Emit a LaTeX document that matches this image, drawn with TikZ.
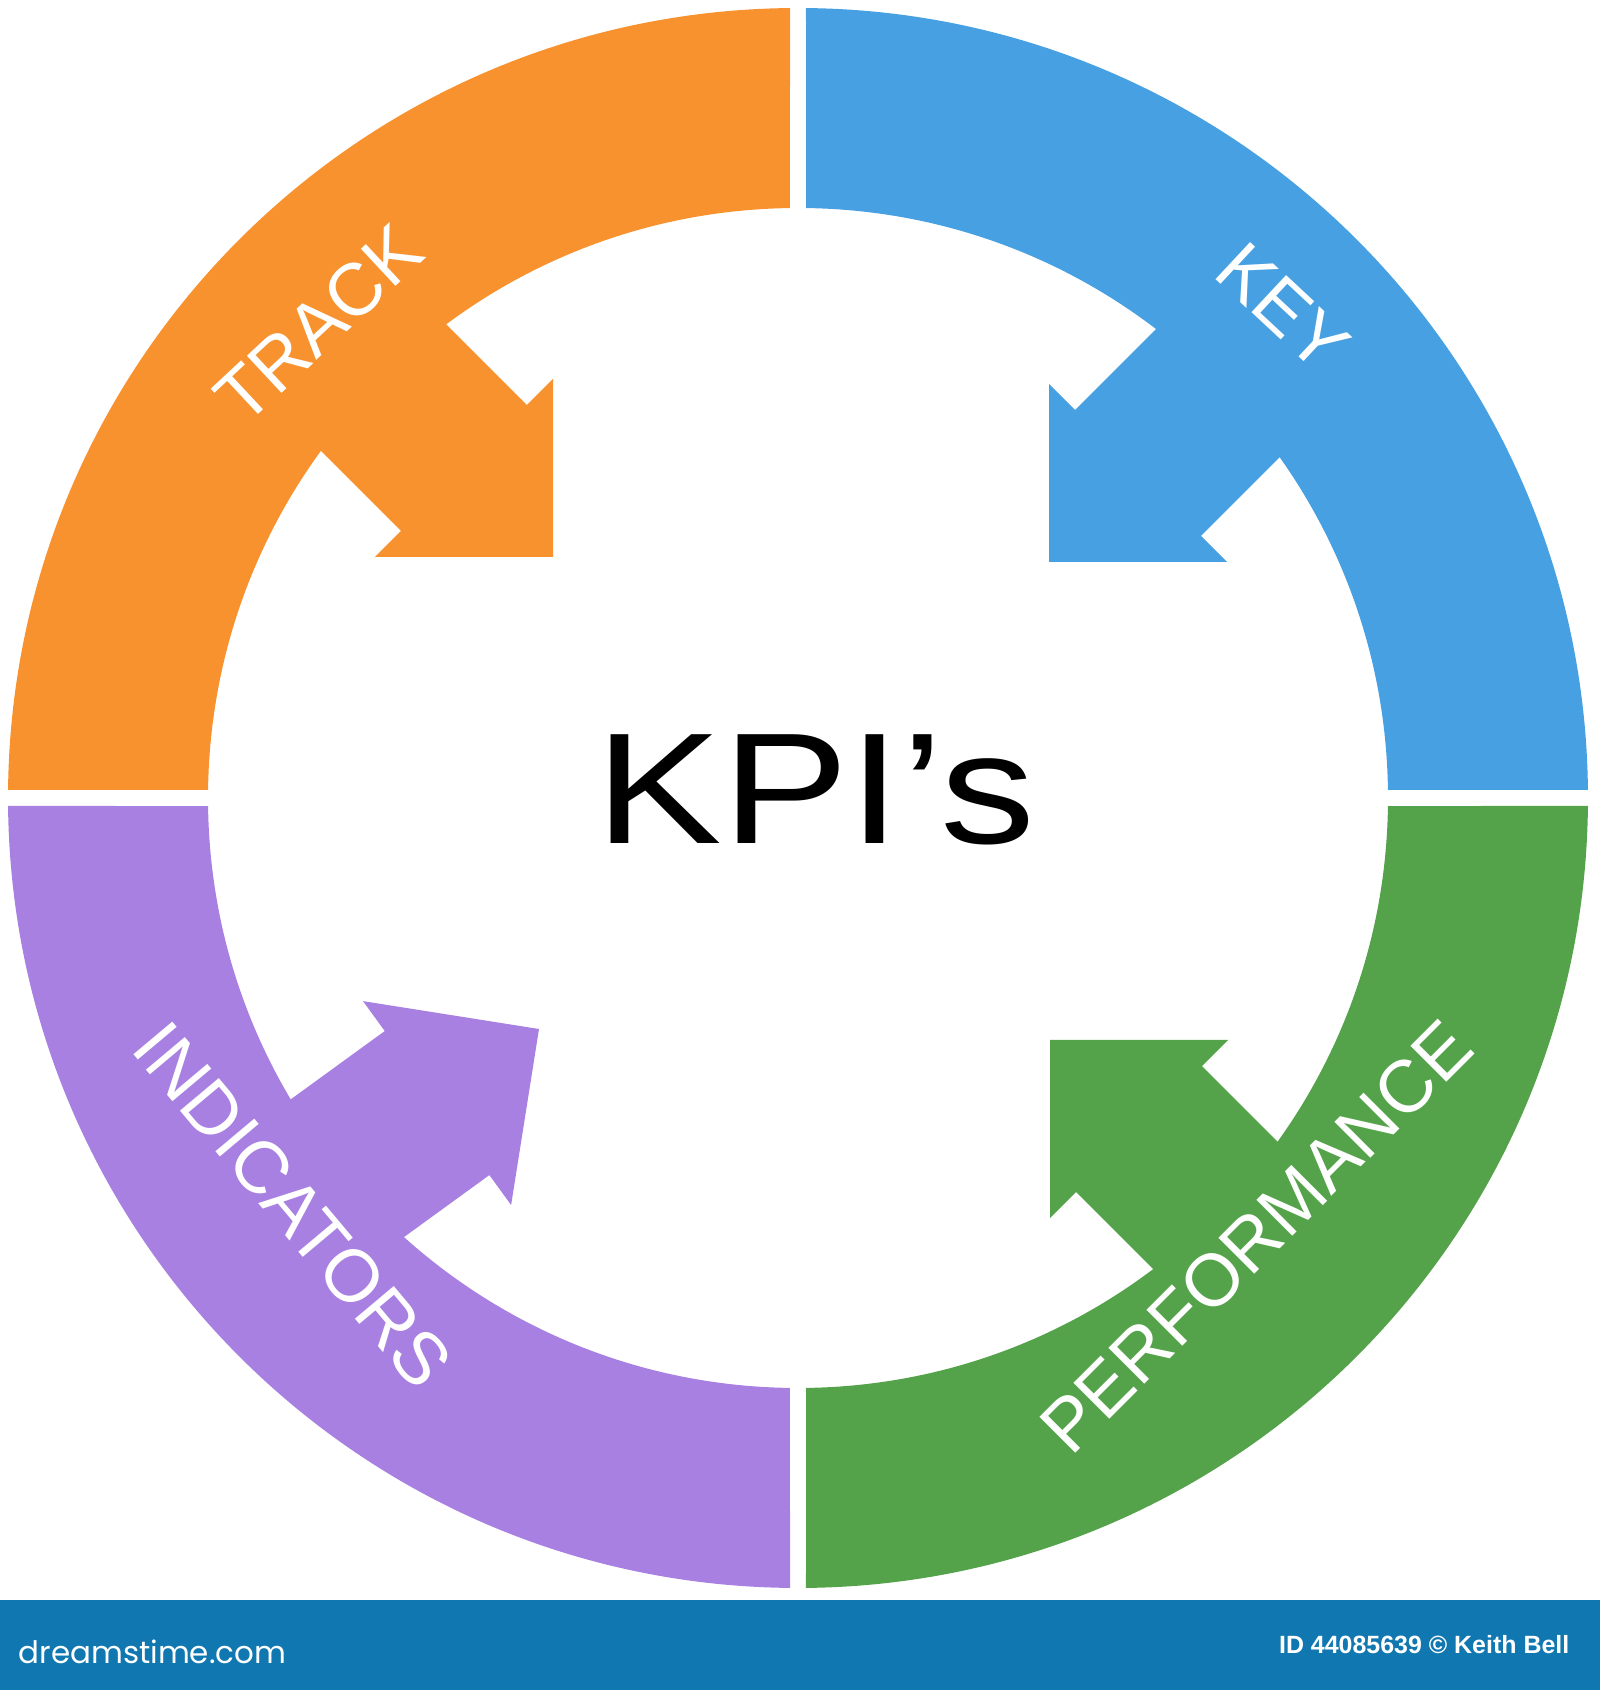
\documentclass[tikz,border=0pt]{standalone}
\usepackage{fontspec}
\setmainfont{Liberation Sans}
\newfontfamily\brandfont{Poppins}
\usepackage{xcolor}
\usepackage{tikz}
\usetikzlibrary{positioning, calc}
\definecolor{orng}{HTML}{F7922F}
\definecolor{blu}{HTML}{46A0E2}
\definecolor{grn}{HTML}{54A34A}
\definecolor{purp}{HTML}{A880E2}
\definecolor{stripe}{HTML}{1077B0}

\begin{document}
\begin{tikzpicture}[
  lbl/.style={text=white, inner sep=0pt, font=\fontsize{21}{24}\selectfont},
  hub/.style={text=black, inner sep=0pt, font=\fontsize{45}{50}\selectfont},
  credit/.style={text=white, inner sep=0pt}]
\useasboundingbox (-7.98,7.98) rectangle (8.02,-8.92);

\foreach \clr/\a in {blu/0, orng/90, purp/180, grn/270}
 {
  \fill[\clr] (\a+0.58:7.9) arc[start angle=\a+0.58, end angle=\a+89.42, radius=7.9]
    -- (\a+89.22:5.9) arc[start angle=\a+89.22, end angle=\a+0.78, radius=5.9] -- cycle;
 }

\foreach \clr/\tx/\ty/\ang in {orng/-2.45/2.41/-45, blu/2.51/2.36/-135, grn/2.52/-2.42/135, purp/-2.59/-2.31/36}
 {
  \fill[\clr, shift={(\tx,\ty)}, rotate=\ang] (0,0) -- (-1.26,1.26) -- (-1.26,0.89) -- (-3.6,0.89)
    -- (-3.6,-0.89) -- (-1.26,-0.89) -- (-1.26,-1.26) -- cycle;
 }

\foreach \txt/\x/\y/\rot in {TRACK/-4.79/4.74/43, KEY/4.85/4.91/-43, PERFORMANCE/4.58/-4.39/45, INDICATORS/-5.05/-4.07/-50}
  \node[lbl, rotate=\rot] (lbl-\txt) at (\x,\y) {\txt};

\node[hub] (kpis) at (0.175,0.08) {\scalebox{1.2}[1]{KPI’s}};

\fill[stripe] (-7.98,-8.02) rectangle (8.02,-8.92);
\node[credit, anchor=base west, font=\brandfont\fontsize{8.8}{11}\selectfont] (brand) at (-7.80,-8.65) {dreamstime.com};
\node[credit, anchor=base east, font=\bfseries\fontsize{7.1}{9}\selectfont] (imgid) at (7.72,-8.55) {ID 44085639 © Keith Bell};
\end{tikzpicture}
\end{document}
